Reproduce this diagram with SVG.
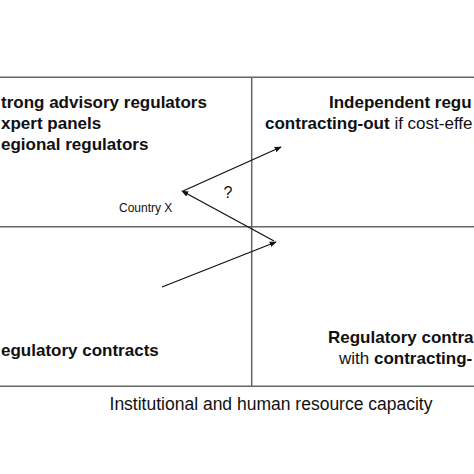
<svg xmlns="http://www.w3.org/2000/svg" width="474" height="474" viewBox="0 0 474 474">
<style>
.grid{stroke:#666;stroke-width:1.5;fill:none}
.arr{stroke:#111;stroke-width:1.3;fill:none;marker-end:url(#ah)}
text{font-family:"Liberation Sans",Arial,sans-serif;fill:#111}
.b{font-weight:bold;font-size:17px}
.r{font-size:17px}
</style>
<defs>
<marker id="ah" viewBox="0 0 10 10" refX="9" refY="5" markerWidth="7" markerHeight="7" markerUnits="userSpaceOnUse" orient="auto">
<path d="M0,1 L10,5 L0,9 Z" fill="#111"/>
</marker>
</defs>
<rect width="474" height="474" fill="#fff"/>
<g id="grid">
<line class="grid" x1="0" y1="77.3" x2="474" y2="77.3"/>
<line class="grid" x1="0" y1="226.7" x2="474" y2="226.7"/>
<line class="grid" x1="0" y1="386.3" x2="474" y2="386.3"/>
<line class="grid" x1="251.7" y1="77.3" x2="251.7" y2="386.3"/>
</g>
<g id="q-top-left">
<text class="b" x="1" y="108">trong advisory regulators</text>
<text class="b" x="1" y="129">xpert panels</text>
<text class="b" x="1" y="150">egional regulators</text>
</g>
<g id="q-top-right">
<text class="b" x="329" y="108">Independent regu</text>
<text x="265" y="129" class="r"><tspan font-weight="bold">contracting-out</tspan> if cost-effe</text>
</g>
<g id="q-bottom-left">
<text class="b" x="1" y="356">egulatory contracts</text>
</g>
<g id="q-bottom-right">
<text class="b" x="328" y="343">Regulatory contra</text>
<text class="r" x="339" y="364">with <tspan font-weight="bold">contracting-</tspan></text>
</g>
<g id="country">
<text x="119" y="212" font-size="12">Country X</text>
<text x="228" y="198" font-size="16" text-anchor="middle">?</text>
</g>
<g id="connectors">
<line class="arr" x1="162" y1="287" x2="276" y2="242"/>
<line class="arr" x1="274" y1="241" x2="182" y2="191"/>
<line class="arr" x1="183" y1="191" x2="281" y2="147"/>
</g>
<g id="axis-label">
<text class="r" x="271" y="409.5" font-size="17.5" text-anchor="middle" style="font-size:17.5px">Institutional and human resource capacity</text>
</g>
</svg>
